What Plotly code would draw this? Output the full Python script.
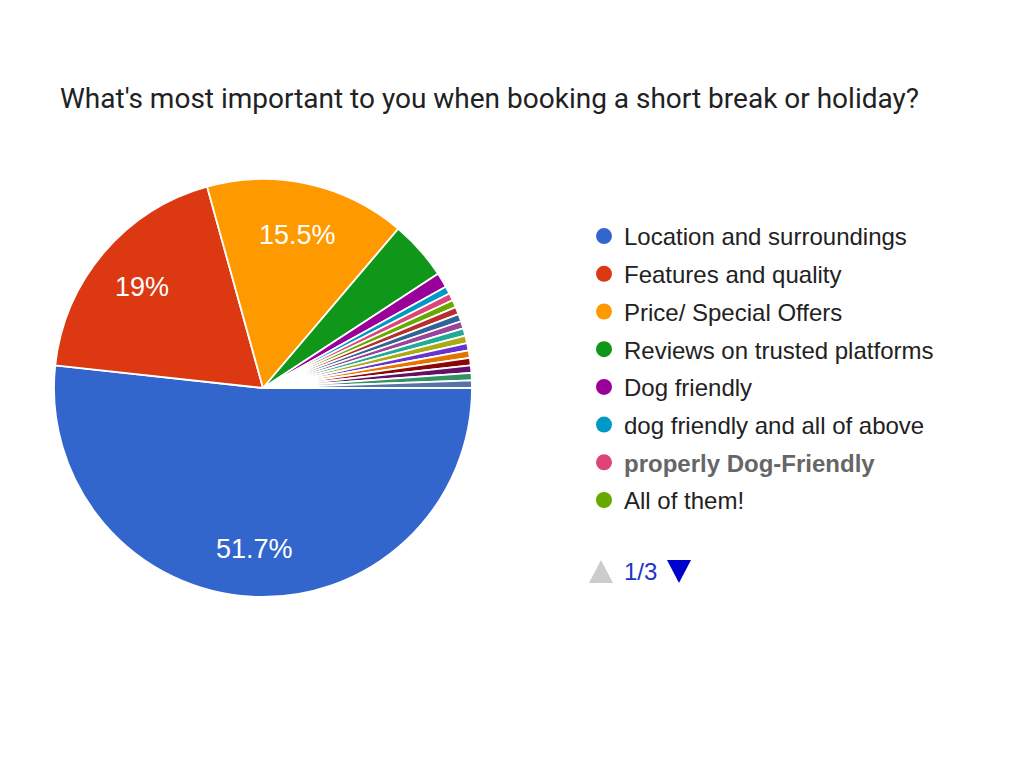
import math
import plotly.graph_objects as go

title = "What's most important to you when booking a short break or holiday?"

categories = [
    "Location and surroundings",
    "Features and quality",
    "Price/ Special Offers",
    "Reviews on trusted platforms",
    "Dog friendly",
    "dog friendly and all of above",
    "properly Dog-Friendly",
    "All of them!",
    "Other answer 9", "Other answer 10", "Other answer 11", "Other answer 12",
    "Other answer 13", "Other answer 14", "Other answer 15", "Other answer 16",
    "Other answer 17", "Other answer 18", "Other answer 19",
]
counts = [90, 33, 27, 8, 2, 1, 1, 1, 1, 1, 1, 1, 1, 1, 1, 1, 1, 1, 1]
colors = [
    "#3366cc", "#dc3912", "#ff9900", "#109618", "#990099", "#0099c6",
    "#dd4477", "#66aa00", "#b82e2e", "#316395", "#994499", "#22aa99",
    "#aaaa11", "#6633cc", "#e67300", "#8b0707", "#651067", "#329262",
    "#5574a6",
]
legend_page = categories[:8]
page_label = "1/3"

W, H = 1024, 768
OFF = 8  # default page margin around the plot div
CX, CY, R = 263, 388, 209  # pie centre and radius in screen pixels
FONT = "Liberation Sans, Arial, sans-serif"


def px_x(x):
    return (x - OFF) / W


def px_y(y):
    return 1 - (y - OFF) / H


total = sum(counts)

fig = go.Figure()
fig.add_trace(go.Pie(
    labels=categories,
    values=counts,
    textinfo="none",
    marker=dict(colors=colors, line=dict(color="white", width=1.8)),
    sort=False,
    direction="clockwise",
    rotation=90,
    showlegend=False,
    domain=dict(x=[px_x(CX - R), px_x(CX + R)], y=[px_y(CY + R), px_y(CY - R)]),
    hoverinfo="label+percent",
))

# percentage labels placed along each slice bisector (Google-Charts style)
annotations = []
cum = 0
for v in counts:
    frac = v / total
    if frac >= 0.05:
        mid = (cum + frac / 2) * 2 * math.pi  # clockwise from 3 o'clock
        d = 0.76 * R
        annotations.append(dict(
            text=f"{frac * 100:.3g}%",
            x=px_x(CX + d * math.cos(mid)), y=px_y(CY + d * math.sin(mid) + 2),
            xref="paper", yref="paper", xanchor="center", yanchor="middle",
            showarrow=False, font=dict(family=FONT, size=27, color="white"),
        ))
    cum += frac

for i, name in enumerate(legend_page):
    label = name
    if name == "properly Dog-Friendly":
        label = f"<b><span style='color:#666666'>{name}</span></b>"
    fig.add_trace(go.Scatter(
        x=[None], y=[None], mode="markers", name=label,
        marker=dict(symbol="circle", size=16, color=colors[i]),
        legendgroup=f"g{i}", showlegend=True,
    ))

annotations.append(dict(
    text=page_label, x=px_x(640), y=px_y(571), xref="paper", yref="paper",
    xanchor="center", yanchor="middle",
    showarrow=False, font=dict(family=FONT, size=24, color="#2233cc"),
))


def tri(x0, x1, ytop, ybot, up, color):
    xm = (x0 + x1) / 2
    if up:
        path = (f"M {px_x(x0)} {px_y(ybot)} L {px_x(x1)} {px_y(ybot)} "
                f"L {px_x(xm)} {px_y(ytop)} Z")
    else:
        path = (f"M {px_x(x0)} {px_y(ytop)} L {px_x(x1)} {px_y(ytop)} "
                f"L {px_x(xm)} {px_y(ybot)} Z")
    return dict(type="path", xref="paper", yref="paper", path=path,
                fillcolor=color, line=dict(width=0))


shapes = [
    tri(589, 613, 560, 583, True, "#cccccc"),
    tri(667, 691, 560, 583, False, "#0000cc"),
]

fig.update_layout(
    width=W, height=H,
    margin=dict(l=0, r=0, t=0, b=0),
    paper_bgcolor="white", plot_bgcolor="white",
    xaxis=dict(visible=False), yaxis=dict(visible=False),
    title=dict(
        text=title, x=px_x(60), xanchor="left", y=px_y(98), yanchor="middle",
        font=dict(family="Roboto, Arial, sans-serif", size=28, color="#202124"),
    ),
    legend=dict(
        x=px_x(584), xanchor="left", y=px_y(214), yanchor="top",
        font=dict(family=FONT, size=24, color="#222222"),
        tracegroupgap=3.5, itemsizing="trace", bgcolor="rgba(0,0,0,0)",
    ),
    annotations=annotations,
    shapes=shapes,
)

fig.write_html("out.html")
